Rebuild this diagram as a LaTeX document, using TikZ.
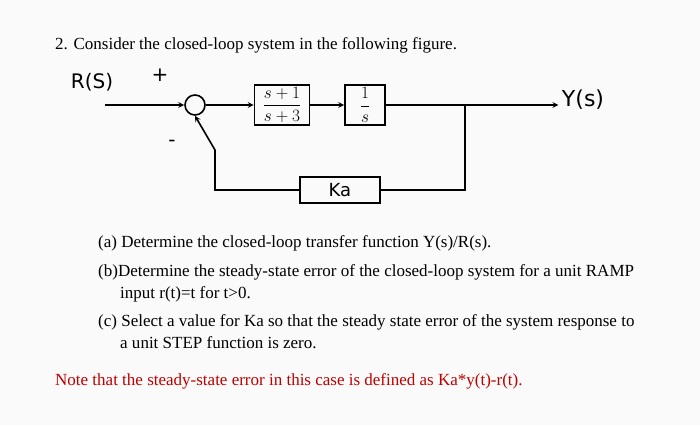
\documentclass[tikz,border=0pt]{standalone}
\usepackage{fontspec}
\setmainfont{Liberation Serif}
\newfontfamily\hand{DejaVu Sans}
\begin{document}
\begin{tikzpicture}[x=1pt,y=-1pt,
  txt/.style={anchor=west,font=\fontsize{17}{20}\selectfont,inner sep=0},
  blk/.style={draw,line width=1.6pt,minimum width=55pt,minimum height=40pt,inner sep=1pt,font=\hand\fontsize{18}{18}\selectfont},
  ln/.style={line width=1.6pt},
  arr/.style={ln,->,>=stealth}]
\fill[white!96!gray] (0,0) rectangle (700,425);
\useasboundingbox (0,0) rectangle (700,425);
\node[txt] (t) at (55,45) {2. Consider the closed-loop system in the following figure.};
\node[font=\hand\fontsize{20}{20}\selectfont] (r) at (92,82) {R(S)};
\node[font=\hand\fontsize{20}{20}\selectfont] (p) at (160,75) {+};
\node[font=\hand\fontsize{20}{20}\selectfont] (m) at (172,143) {-};
\coordinate (rin) at (105,105);
\node[draw,circle,ln,minimum size=20pt,inner sep=0] (c) at (195,105) {};
\node[blk] (g1) at (282,105) {$\displaystyle\frac{s+1}{s+3}$};
\node[blk,minimum width=40pt] (g2) at (365,105) {$\displaystyle\frac{1}{s}$};
\coordinate (br) at (465,105);
\node[font=\hand\fontsize{22}{22}\selectfont] (y) at (583,100) {Y(s)};
\node[blk,minimum width=80pt,minimum height=26pt] (ka) at (340,190) {Ka};
\draw[arr] (rin) -- (c);
\draw[arr] (c) -- (g1);
\draw[arr] (g1) -- (g2);
\draw[ln] (g2) -- (br);
\draw[arr] (br) -- (y.west |- br);
\draw[ln] (br) -- (465,190) -- (ka.east);
\draw[arr] (ka.west) -- (215,190) -- (215,150) -- (c.south);
\node[txt] (a) at (98,243) {(a) Determine the closed-loop transfer function Y(s)/R(s).};
\node[txt] (b) at (98,272) {(b)Determine the steady-state error of the closed-loop system for a unit RAMP};
\node[txt] (b2) at (120,294) {input r(t)=t for t>0.};
\node[txt] (cc) at (98,322) {(c) Select a value for Ka so that the steady state error of the system response to};
\node[txt] (c2) at (120,343) {a unit STEP function is zero.};
\node[txt,text=red!75!black] (n) at (55,381) {Note that the steady-state error in this case is defined as Ka*y(t)-r(t).};
\end{tikzpicture}
\end{document}
